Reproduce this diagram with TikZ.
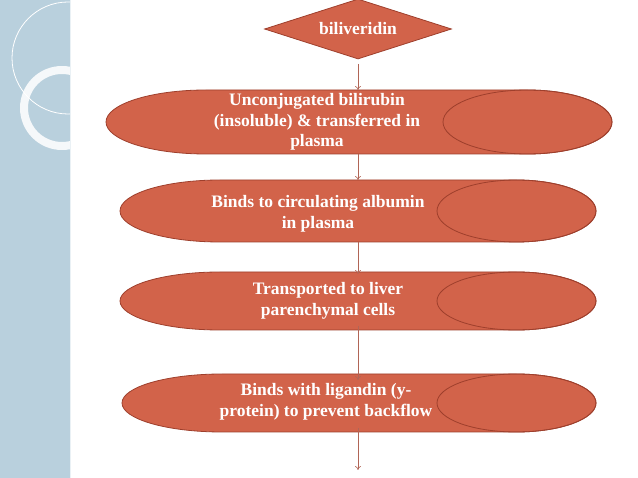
\documentclass[tikz,border=0pt]{standalone}
\usepackage{fontspec}
\setmainfont{Liberation Serif}
\usetikzlibrary{shapes.geometric,arrows.meta}
\definecolor{boxfill}{HTML}{D2634A}
\definecolor{boxline}{HTML}{9E3F2C}
\definecolor{strip}{HTML}{B9D0DD}
\tikzset{
  lbl/.style={text=white,font=\bfseries\fontsize{17.5}{20.5}\selectfont,align=center},
  arr/.style={draw=boxline!80,-{To[length=4pt,width=6pt]},line width=0.6pt},
  shp/.style={fill=boxfill,draw=boxline,line width=0.8pt}
}
\newcommand{\flowbox}[6]{% name, left, right, top, bottom, ellipse left
  \pgfmathsetmacro{\cy}{(#4+#5)/2}\pgfmathsetmacro{\ry}{(#5-#4)/2}
  \pgfmathsetmacro{\erx}{(#3-#6)/2}\pgfmathsetmacro{\ecx}{(#3+#6)/2}
  \filldraw[shp] (#2+100,#4) arc[start angle=-90,end angle=-270,x radius=100,y radius=\ry] -- (\ecx,#5) arc[start angle=90,end angle=-90,x radius=\erx,y radius=\ry] -- cycle;
  \draw[shp,fill=none] (\ecx,\cy) ellipse[x radius=\erx,y radius=\ry];
  \coordinate (#1t) at (358,#4); \coordinate (#1b) at (358,#5);
}
\begin{document}
\begin{tikzpicture}[x=1pt,y=-1pt]
\useasboundingbox (0,0) rectangle (638,478);
\fill[white] (0,0) rectangle (638,478);
\begin{scope}
\clip (0,0) rectangle (70,478);
\fill[strip] (0,0) rectangle (70,478);
\draw[white!85!strip,line width=8pt] (62,108) circle[radius=38];
\draw[white,line width=0.8pt] (68,58) circle[radius=56];
\end{scope}
\draw[white!70!strip,line width=1pt] (70,0) -- (70,478);
\node[diamond,shp,minimum width=187pt,minimum height=60pt,aspect=3.1,inner sep=0pt] (d) at (358,29) {};
\node[lbl] at (358,29) {biliveridin};
\flowbox{a}{106}{612}{90}{154}{443}
\node[lbl] (la) at (317,122) {Unconjugated bilirubin\\(insoluble) \& transferred in\\plasma};
\flowbox{b}{120}{596}{180}{242}{437}
\node[lbl] (lb) at (318,214) {Binds to circulating albumin\\in plasma};
\flowbox{c}{120}{596}{272}{330}{437}
\node[lbl] (lc) at (328,301) {Transported to liver\\parenchymal cells};
\flowbox{e}{122}{596}{374}{432}{437}
\node[lbl] (le) at (326,402) {Binds with ligandin (y-\\protein) to prevent backflow};
\coordinate (end) at (358,470);
\draw[arr] (358,64) -- (at);
\draw[arr] (ab) -- (bt);
\draw[arr] (bb) -- ([yshift=-2pt]ct);
\draw[arr] ([yshift=4pt]cb) -- ([yshift=-6pt]et);
\draw[arr] ([yshift=4pt]eb) -- (end);
\end{tikzpicture}
\end{document}
